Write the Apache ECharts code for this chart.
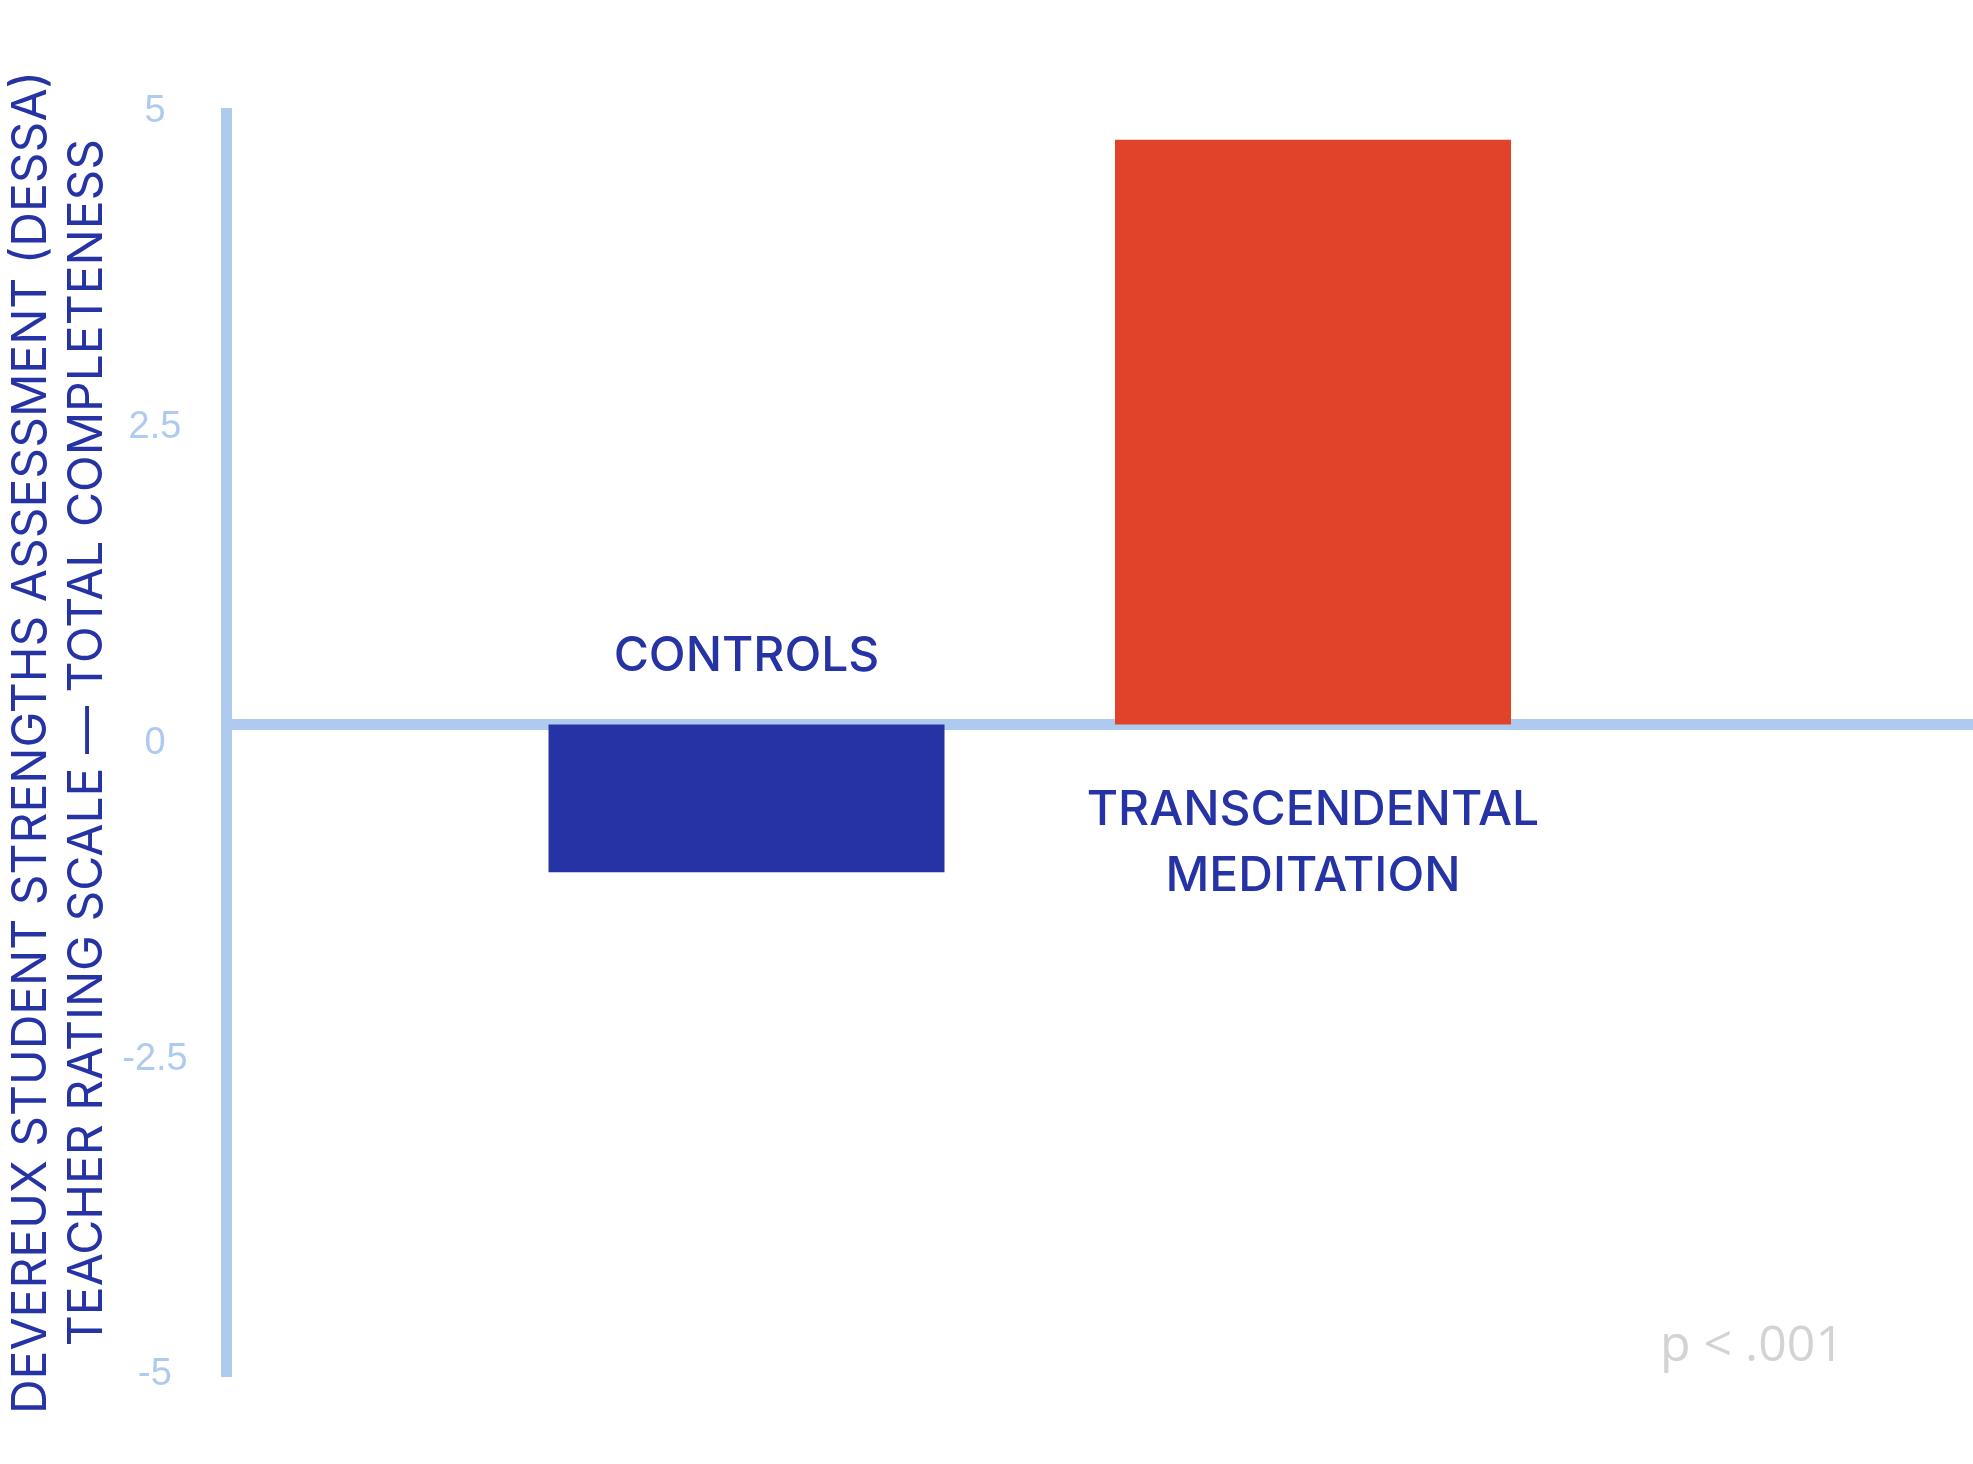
<!DOCTYPE html>
<html>
<head>
<meta charset="utf-8">
<script src="https://cdn.jsdelivr.net/npm/echarts@6/dist/echarts.min.js"></script>
<style>
html,body{margin:0;padding:0;background:#fff;}
#chart{width:1973px;height:1464px;}
</style>
</head>
<body>
<div id="chart"></div>
<script>
// ---- data ----
const categories = ['CONTROLS', 'TRANSCENDENTAL\nMEDITATION'];
const groupPositions = [1, 2];
const values = [-1.17, 4.63];
const barColors = ['#2633a5', '#e04329'];
const yTicks = [-5, -2.5, 0, 2.5, 5];
const yTitle = 'DEVEREUX STUDENT STRENGTHS ASSESSMENT (DESSA)\nTEACHER RATING SCALE \u2014 TOTAL COMPLETENESS';
const pText = 'p < .001';

const axisBlue = '#aecbef';
const textBlue = '#2633a5';

const chart = echarts.init(document.getElementById('chart'), null, {renderer: 'canvas'});

const option = {
  backgroundColor: '#ffffff',
  animation: false,
  grid: [
    {left: 226, right: 0, top: 93, bottom: 108, containLabel: false, outerBoundsMode: 'none'},
    {left: 226, right: 0, top: 108, bottom: 87, containLabel: false, outerBoundsMode: 'none'}
  ],
  xAxis: [
    {
      type: 'value', gridIndex: 0, min: 0.0812, max: 3.165,
      axisLine: {show: true, onZero: true, lineStyle: {color: axisBlue, width: 11, cap: 'butt'}},
      axisTick: {show: false}, axisLabel: {show: false}, splitLine: {show: false}
    },
    {type: 'value', gridIndex: 1, min: 0, max: 1, show: false}
  ],
  yAxis: [
    {
      type: 'value', gridIndex: 0, min: yTicks[0], max: yTicks[yTicks.length - 1], interval: 2.5,
      axisLine: {show: false}, axisTick: {show: false}, splitLine: {show: false},
      axisLabel: {
        show: true, color: axisBlue, fontSize: 38, fontFamily: 'Liberation Sans',
        align: 'center', verticalAlign: 'top', margin: 71,
        formatter: v => String(v)
      }
    },
    {
      type: 'value', gridIndex: 1, min: 0, max: 1,
      axisLine: {show: true, onZero: false, lineStyle: {color: axisBlue, width: 11, cap: 'butt'}},
      axisTick: {show: false}, axisLabel: {show: false}, splitLine: {show: false},
      name: yTitle, nameLocation: 'middle', nameRotate: 90, nameGap: 110,
      nameTextStyle: {color: textBlue, fontSize: 48, fontFamily: 'Inter', lineHeight: 56, fontWeight: 400}
    }
  ],
  series: [{
    type: 'bar',
    xAxisIndex: 0, yAxisIndex: 0,
    barWidth: 396,
    data: values.map((v, i) => ({
      value: [groupPositions[i], v],
      itemStyle: {color: barColors[i]},
      label: {
        show: true,
        position: v < 0 ? 'top' : 'bottom',
        distance: v < 0 ? 35 : 53,
        formatter: categories[i],
        color: textBlue, fontSize: 48, fontFamily: 'Inter', fontWeight: 500,
        lineHeight: 66, align: 'center'
      }
    }))
  }],
  graphic: [{
    type: 'text',
    right: 1973 - 1844, top: 1322,
    style: {text: pText, fill: '#d3d3d3', fontSize: 50, fontFamily: 'Open Sans'}
  }]
};
chart.setOption(option);
</script>
</body>
</html>
